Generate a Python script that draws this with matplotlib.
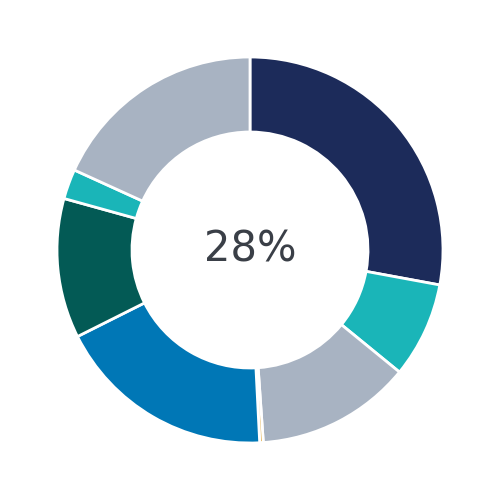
import matplotlib.pyplot as plt

values = [27.9, 8.0, 13.0, 0.3, 18.4, 11.7, 2.5, 18.2]
colors = ['#1c2b5a', '#1ab5b8', '#a8b3c2', '#e3b04b', '#0077b6', '#035a55', '#1ab5b8', '#a8b3c2']
center_label = "28%"

fig, ax = plt.subplots(figsize=(5, 5), dpi=100)
ax.pie(values, colors=colors, startangle=90, counterclock=False, radius=0.965,
       wedgeprops=dict(width=0.375, edgecolor='white', linewidth=2))
ax.text(0, 0, center_label, ha='center', va='center', fontsize=30, color='#3a3f47')
ax.set_xlim(-1.25, 1.25)
ax.set_ylim(-1.25, 1.25)
ax.set_aspect('equal')
plt.subplots_adjust(left=0, right=1, top=1, bottom=0)
plt.savefig('out.png', dpi=100)
